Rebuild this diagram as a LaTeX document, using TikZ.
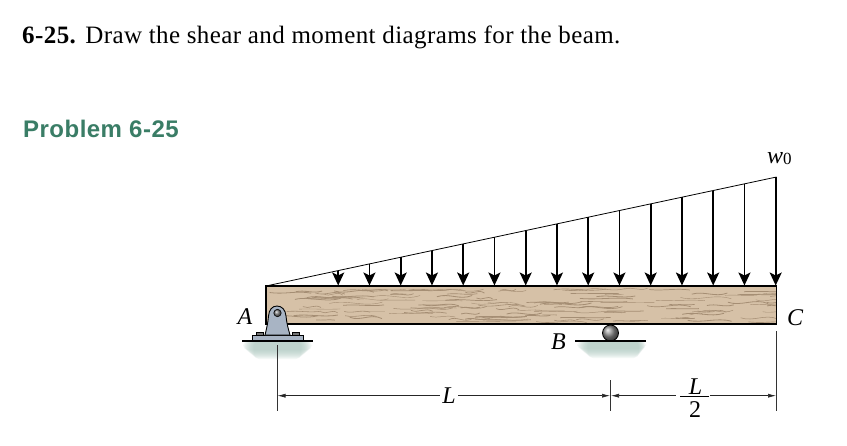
\documentclass[tikz,border=0pt]{standalone}
\usepackage{fontspec}
\setmainfont{Liberation Serif}
\newfontfamily\headfont[LetterSpace=2]{Liberation Sans}
\newfontfamily\titlefont[LetterSpace=1.7]{Liberation Serif}
\usetikzlibrary{arrows.meta,calc}
\definecolor{woodc}{HTML}{D6C1A7}
\definecolor{grainc}{HTML}{A58E74}
\definecolor{groundc}{HTML}{A9C6BD}
\definecolor{steelc}{HTML}{A8B4C4}
\definecolor{headc}{HTML}{3A7D66}
\tikzset{
  loadarrow/.style={line width=1.8pt,-{Stealth[length=13pt,width=12pt,inset=3pt]}},
  extline/.style={line width=0.8pt,black!80},
  lab/.style={inner sep=0pt,font=\fontsize{24}{24}\selectfont\itshape},
  ground/.style={line width=1.3pt},
}
\begin{document}
\begin{tikzpicture}[x=1pt,y=-1pt]
\useasboundingbox (0,0) rectangle (847,445);
\fill[white] (0,0) rectangle (847,445);
% texts
\node[anchor=base west,inner sep=0pt,font=\fontsize{25}{26}\selectfont\titlefont] (title) at (22,43) {\textbf{6-25.} Draw the shear and moment diagrams for the beam.};
\node[anchor=base west,inner sep=0pt,text=headc,font=\fontsize{24}{25}\selectfont\headfont\bfseries] (prob) at (23,137) {Problem 6-25};
% ground shadows
\foreach \k in {0,1,...,9}{
  \fill[groundc,opacity=0.12,rounded corners=5pt] (243+\k*1.2,341) rectangle (312-\k*1.2,350+\k);
  \fill[groundc,opacity=0.12,rounded corners=5pt] (577+\k*1.2,341) rectangle (646-\k*0.8,349+\k);
}
% beam
\coordinate (bl) at (266,286); \coordinate (br) at (776.5,286);
\fill[woodc] (266,286) rectangle (776.5,324);
\begin{scope}
\clip (266,286) rectangle (776.5,324);
\pgfmathsetseed{2517}
\foreach \i in {1,...,135}{
  \pgfmathsetmacro\gx{262+rnd*510}
  \pgfmathsetmacro\gy{289+rnd*33}
  \pgfmathsetmacro\gl{14+rnd*40}
  \pgfmathsetmacro\gd{(rnd-0.5)*9}
  \pgfmathsetmacro\gw{0.35+rnd*0.5}
  \draw[grainc,line width=\gw pt] (\gx,\gy) .. controls (\gx+0.35*\gl,\gy+\gd) and (\gx+0.65*\gl,\gy-\gd) .. (\gx+\gl,\gy+0.3*\gd);
}
\end{scope}
\draw[line width=1.5pt,black] (266,324) -- (266,286) -- (776.5,286) -- (776.5,324) -- cycle;
% load
\coordinate (loadstart) at (266,286); \coordinate (loadend) at (776.5,177);
\draw[line width=0.8pt] (loadstart) -- (loadend);
\foreach \i in {0,1,...,14}{
  \pgfmathsetmacro\ax{338.2+\i*31.25}
  \pgfmathsetmacro\ay{286-(\ax-266)*0.21352}
  \coordinate (top\i) at (\ax,\ay);
  \coordinate (tip\i) at (\ax,285.5);
  \draw[loadarrow] (top\i) -- (tip\i);
}
% support A
\fill[steelc,draw=black,line width=0.8pt] (252,335) rectangle (303,341);
\fill[black!55,draw=black,line width=0.4pt] (256,332.5) rectangle (263,335);
\fill[black!55,draw=black,line width=0.4pt] (292,332.5) rectangle (299,335);
\fill[steelc,draw=black,line width=0.9pt] (265,335) .. controls (267,327) and (268,322) .. (268.5,316) .. controls (269,310) and (272,306) .. (277,306) .. controls (282,306) and (285.5,310) .. (286,316) .. controls (286.5,322) and (288,328) .. (290,335) -- cycle;
\shade[ball color=black!50,draw=black,line width=0.6pt] (277.5,313) circle (3.7);
\draw[ground] (242,341) -- (313,341);
% support B
\shade[ball color=black!45] (610.5,333) circle (8);
\draw[line width=0.8pt] (610.5,333) circle (8);
\draw[ground] (575,341) -- (645.5,341);
% dimension lines
\coordinate (eA1) at (277,345); \coordinate (eA2) at (277,411);
\coordinate (eB1) at (610.5,380); \coordinate (eB2) at (610.5,411);
\coordinate (eC1) at (776.5,331); \coordinate (eC2) at (776.5,411);
\draw[extline] (eA1) -- (eA2);
\draw[extline] (eB1) -- (eB2);
\draw[extline] (eC1) -- (eC2);
\node[lab] (labL) at (449,396) {L};
\coordinate (dA) at (277.5,395.7); \coordinate (dBl) at (610,395.7); \coordinate (dBr) at (611,395.7); \coordinate (dC) at (776,395.7);
\coordinate (dL1) at (440,395.7); \coordinate (dL2) at (458,395.7);
\draw[line width=0.6pt,black!85,{Latex[length=8pt,width=4pt]}-] (dA) -- (dL1);
\draw[line width=0.6pt,black!85,-{Latex[length=8pt,width=4pt]}] (dL2) -- (dBl);
\node[lab] (labL2) at (695.5,387) {L};
\node[inner sep=0pt,font=\fontsize{24}{24}\selectfont] (lab2) at (695,409.5) {2};
\coordinate (fl) at (680,396); \coordinate (fr) at (708.5,396);
\draw[line width=0.7pt] (fl) -- (fr);
\coordinate (dg1) at (676,395.7); \coordinate (dg2) at (710,395.7);
\draw[line width=0.6pt,black!85,{Latex[length=8pt,width=4pt]}-] (dBr) -- (dg1);
\draw[line width=0.6pt,black!85,-{Latex[length=8pt,width=4pt]}] (dg2) -- (dC);
% labels
\node[lab] (labA) at (245,317) {A};
\node[lab] (labB) at (558.5,342) {B};
\node[lab] (labC) at (795,318) {C};
\node[lab,anchor=base west,font=\fontsize{24}{24}\selectfont\itshape] (labw) at (767,163) {w\raisebox{-1.5pt}{\fontsize{17}{17}\selectfont\normalfont 0}};
\end{tikzpicture}
\end{document}
